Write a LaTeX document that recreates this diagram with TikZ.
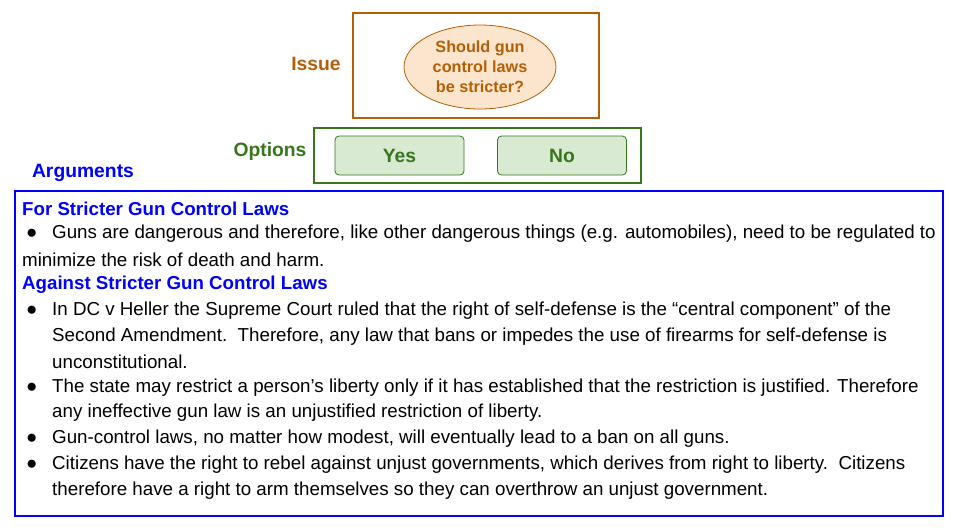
\documentclass[tikz,border=0pt]{standalone}
\usepackage{fontspec}
\setmainfont{Liberation Sans}
\usetikzlibrary{shapes.geometric}
\definecolor{iss}{HTML}{B45F06}
\definecolor{issf}{HTML}{FCE5CD}
\definecolor{opt}{HTML}{38761D}
\definecolor{optf}{HTML}{D9EAD3}
\definecolor{arg}{HTML}{0000FF}
\begin{document}
\begin{tikzpicture}[x=1pt,y=-1pt,
  body/.style={anchor=west,inner sep=0pt,font=\fontsize{18.75}{20}\selectfont},
  head/.style={anchor=west,inner sep=0pt,text=arg,font=\bfseries\fontsize{18.7}{20}\selectfont},
  lab/.style={inner sep=0pt,font=\bfseries\fontsize{19.3}{20}\selectfont},
  btn/.style={draw=opt,fill=optf,rounded corners=4pt,minimum width=129pt,minimum height=39pt,text=opt,font=\bfseries\fontsize{19.3}{20}\selectfont,line width=0.8pt}]
\useasboundingbox (0,0) rectangle (958,531);
\draw[iss,line width=1.2pt] (353,13) rectangle (599,118);
\node[ellipse,draw=iss,fill=issf,line width=0.8pt,minimum width=152pt,minimum height=84pt,inner sep=0pt,align=center,text=iss,font=\bfseries\fontsize{16.2}{20}\selectfont] (q) at (480,67) {Should gun\\control laws\\be stricter?};
\node[lab,text=iss] (issue) at (316,64) {Issue};
\node[btn] (yes) at (399.5,155.5) {Yes};
\node[btn] (no) at (562,155.5) {No};
\draw[opt,line width=1.2pt] (314,128) rectangle (641,183);
\node[lab,text=opt] (options) at (270,152) {Options};
\node[lab,text=arg] (arguments) at (83,173) {Arguments};
\draw[arg,line width=1.2pt] (15,191) rectangle (943,516);
\node[head] (h1) at (22,209) {For Stricter Gun Control Laws};
\node[head] (h2) at (22,285) {Against Stricter Gun Control Laws};
\foreach \y/\n in {234/a,311/b,388/c,439/d,465/e}{\node[body] (b\n) at (26,\y) {●};}
\node[body] (l1) at (52,234) {Guns are dangerous and therefore, like other dangerous things (e.g. automobiles), need to be regulated to};
\node[body] (l2) at (22,260) {minimize the risk of death and harm.};
\node[body] (l3) at (52,311) {In DC v Heller the Supreme Court ruled that the right of self-defense is the “central component” of the};
\node[body] (l4) at (52,337) {Second Amendment.\ \ Therefore, any law that bans or impedes the use of firearms for self-defense is};
\node[body] (l5) at (52,362) {unconstitutional.};
\node[body] (l6) at (52,388) {The state may restrict a person’s liberty only if it has established that the restriction is justified. Therefore};
\node[body] (l7) at (52,413) {any ineffective gun law is an unjustified restriction of liberty.};
\node[body] (l8) at (52,439) {Gun-control laws, no matter how modest, will eventually lead to a ban on all guns.};
\node[body] (l9) at (52,465) {Citizens have the right to rebel against unjust governments, which derives from right to liberty.\ \ Citizens};
\node[body] (l10) at (52,491) {therefore have a right to arm themselves so they can overthrow an unjust government.};
\end{tikzpicture}
\end{document}
